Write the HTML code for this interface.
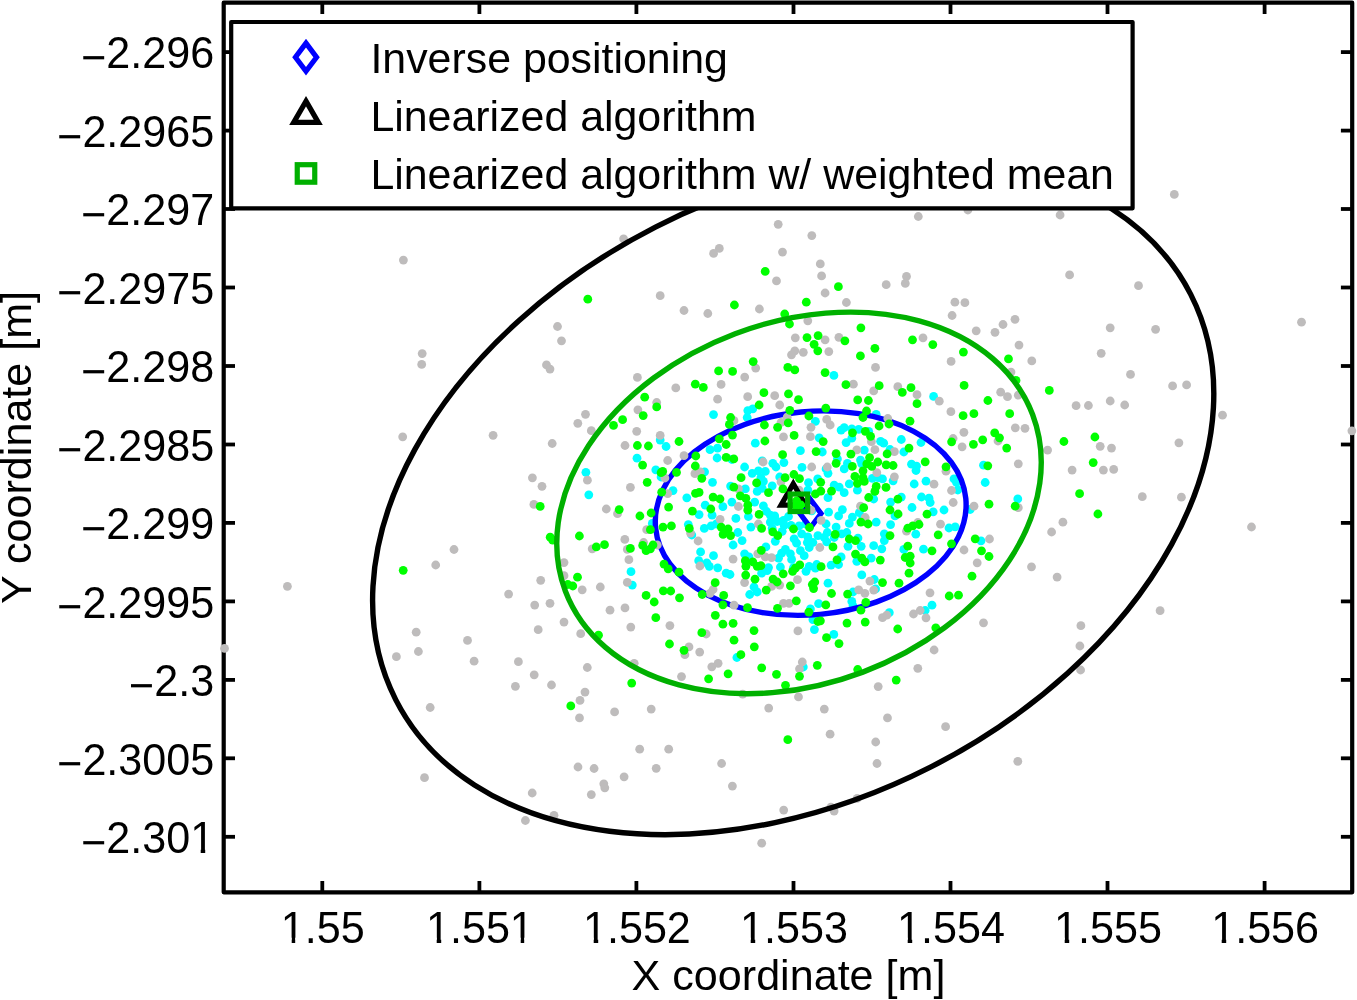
<!DOCTYPE html>
<html><head><meta charset="utf-8"><title>Positioning scatter</title>
<style>
html,body{margin:0;padding:0;background:#fff;}
body{width:1357px;height:1000px;overflow:hidden;}
svg{display:block;}
text{font-family:"Liberation Sans",sans-serif;font-size:43.1px;fill:#000;}
</style></head><body>
<svg width="1357" height="1000" viewBox="0 0 1357 1000">
<rect width="1357" height="1000" fill="#fff"/>

<g stroke="#000" stroke-width="4.2" fill="none" stroke-linejoin="round">
<rect x="223.7" y="2.7" width="1128.5" height="889.5999999999999"/>
</g><g stroke="#000" stroke-width="3.8">
<line x1="322.3" y1="892.3" x2="322.3" y2="881.0"/>
<line x1="322.3" y1="2.7" x2="322.3" y2="14.0"/>
<line x1="479.4" y1="892.3" x2="479.4" y2="881.0"/>
<line x1="479.4" y1="2.7" x2="479.4" y2="14.0"/>
<line x1="636.4" y1="892.3" x2="636.4" y2="881.0"/>
<line x1="636.4" y1="2.7" x2="636.4" y2="14.0"/>
<line x1="793.5" y1="892.3" x2="793.5" y2="881.0"/>
<line x1="793.5" y1="2.7" x2="793.5" y2="14.0"/>
<line x1="950.5" y1="892.3" x2="950.5" y2="881.0"/>
<line x1="950.5" y1="2.7" x2="950.5" y2="14.0"/>
<line x1="1107.5" y1="892.3" x2="1107.5" y2="881.0"/>
<line x1="1107.5" y1="2.7" x2="1107.5" y2="14.0"/>
<line x1="1264.6" y1="892.3" x2="1264.6" y2="881.0"/>
<line x1="1264.6" y1="2.7" x2="1264.6" y2="14.0"/>
<line x1="223.7" y1="52.1" x2="235.0" y2="52.1"/>
<line x1="1352.2" y1="52.1" x2="1340.9" y2="52.1"/>
<line x1="223.7" y1="130.6" x2="235.0" y2="130.6"/>
<line x1="1352.2" y1="130.6" x2="1340.9" y2="130.6"/>
<line x1="223.7" y1="209.0" x2="235.0" y2="209.0"/>
<line x1="1352.2" y1="209.0" x2="1340.9" y2="209.0"/>
<line x1="223.7" y1="287.5" x2="235.0" y2="287.5"/>
<line x1="1352.2" y1="287.5" x2="1340.9" y2="287.5"/>
<line x1="223.7" y1="366.0" x2="235.0" y2="366.0"/>
<line x1="1352.2" y1="366.0" x2="1340.9" y2="366.0"/>
<line x1="223.7" y1="444.5" x2="235.0" y2="444.5"/>
<line x1="1352.2" y1="444.5" x2="1340.9" y2="444.5"/>
<line x1="223.7" y1="522.9" x2="235.0" y2="522.9"/>
<line x1="1352.2" y1="522.9" x2="1340.9" y2="522.9"/>
<line x1="223.7" y1="601.4" x2="235.0" y2="601.4"/>
<line x1="1352.2" y1="601.4" x2="1340.9" y2="601.4"/>
<line x1="223.7" y1="679.9" x2="235.0" y2="679.9"/>
<line x1="1352.2" y1="679.9" x2="1340.9" y2="679.9"/>
<line x1="223.7" y1="758.3" x2="235.0" y2="758.3"/>
<line x1="1352.2" y1="758.3" x2="1340.9" y2="758.3"/>
<line x1="223.7" y1="836.8" x2="235.0" y2="836.8"/>
<line x1="1352.2" y1="836.8" x2="1340.9" y2="836.8"/>
</g>
<g fill="#00ffff">
<circle cx="713.5" cy="414.6" r="4.4"/>
<circle cx="660.2" cy="440.1" r="4.4"/>
<circle cx="666.1" cy="446.5" r="4.4"/>
<circle cx="637.0" cy="458.2" r="4.4"/>
<circle cx="655.8" cy="469.8" r="4.4"/>
<circle cx="661.1" cy="477.0" r="4.4"/>
<circle cx="585.9" cy="472.3" r="4.4"/>
<circle cx="588.8" cy="494.8" r="4.4"/>
<circle cx="710.0" cy="449.7" r="4.4"/>
<circle cx="717.5" cy="448.2" r="4.4"/>
<circle cx="717.1" cy="458.0" r="4.4"/>
<circle cx="731.9" cy="459.5" r="4.4"/>
<circle cx="704.6" cy="471.8" r="4.4"/>
<circle cx="712.5" cy="482.3" r="4.4"/>
<circle cx="730.6" cy="486.1" r="4.4"/>
<circle cx="673.0" cy="490.6" r="4.4"/>
<circle cx="686.8" cy="497.8" r="4.4"/>
<circle cx="705.2" cy="505.2" r="4.4"/>
<circle cx="722.9" cy="506.7" r="4.4"/>
<circle cx="731.9" cy="502.1" r="4.4"/>
<circle cx="699.1" cy="514.6" r="4.4"/>
<circle cx="712.1" cy="515.2" r="4.4"/>
<circle cx="688.3" cy="524.6" r="4.4"/>
<circle cx="652.3" cy="523.4" r="4.4"/>
<circle cx="704.3" cy="528.4" r="4.4"/>
<circle cx="711.2" cy="525.9" r="4.4"/>
<circle cx="716.2" cy="524.0" r="4.4"/>
<circle cx="747.8" cy="410.6" r="4.4"/>
<circle cx="752.8" cy="408.8" r="4.4"/>
<circle cx="747.2" cy="417.5" r="4.4"/>
<circle cx="815.4" cy="421.3" r="4.4"/>
<circle cx="841.1" cy="430.1" r="4.4"/>
<circle cx="844.2" cy="427.6" r="4.4"/>
<circle cx="851.8" cy="428.8" r="4.4"/>
<circle cx="858.7" cy="429.4" r="4.4"/>
<circle cx="868.7" cy="431.3" r="4.4"/>
<circle cx="819.2" cy="437.8" r="4.4"/>
<circle cx="755.3" cy="443.2" r="4.4"/>
<circle cx="846.1" cy="442.6" r="4.4"/>
<circle cx="851.8" cy="438.2" r="4.4"/>
<circle cx="880.6" cy="441.3" r="4.4"/>
<circle cx="883.7" cy="443.2" r="4.4"/>
<circle cx="901.3" cy="439.5" r="4.4"/>
<circle cx="800.4" cy="450.7" r="4.4"/>
<circle cx="822.3" cy="452.0" r="4.4"/>
<circle cx="864.3" cy="450.1" r="4.4"/>
<circle cx="890.0" cy="449.5" r="4.4"/>
<circle cx="903.8" cy="452.0" r="4.4"/>
<circle cx="762.2" cy="460.8" r="4.4"/>
<circle cx="772.8" cy="463.3" r="4.4"/>
<circle cx="776.0" cy="467.0" r="4.4"/>
<circle cx="783.9" cy="462.6" r="4.4"/>
<circle cx="744.6" cy="467.0" r="4.4"/>
<circle cx="802.0" cy="467.3" r="4.4"/>
<circle cx="837.4" cy="458.9" r="4.4"/>
<circle cx="847.4" cy="463.3" r="4.4"/>
<circle cx="861.8" cy="463.9" r="4.4"/>
<circle cx="826.1" cy="468.9" r="4.4"/>
<circle cx="828.0" cy="473.3" r="4.4"/>
<circle cx="752.2" cy="473.3" r="4.4"/>
<circle cx="758.4" cy="470.8" r="4.4"/>
<circle cx="765.3" cy="471.4" r="4.4"/>
<circle cx="760.9" cy="477.7" r="4.4"/>
<circle cx="763.4" cy="481.4" r="4.4"/>
<circle cx="779.7" cy="477.0" r="4.4"/>
<circle cx="817.7" cy="478.9" r="4.4"/>
<circle cx="808.5" cy="482.7" r="4.4"/>
<circle cx="849.3" cy="483.9" r="4.4"/>
<circle cx="857.4" cy="490.2" r="4.4"/>
<circle cx="872.4" cy="478.3" r="4.4"/>
<circle cx="878.1" cy="477.7" r="4.4"/>
<circle cx="882.5" cy="478.9" r="4.4"/>
<circle cx="893.1" cy="480.8" r="4.4"/>
<circle cx="772.2" cy="485.8" r="4.4"/>
<circle cx="745.3" cy="488.9" r="4.4"/>
<circle cx="757.2" cy="491.4" r="4.4"/>
<circle cx="762.2" cy="488.3" r="4.4"/>
<circle cx="807.9" cy="490.2" r="4.4"/>
<circle cx="834.2" cy="485.2" r="4.4"/>
<circle cx="839.2" cy="487.1" r="4.4"/>
<circle cx="844.2" cy="492.7" r="4.4"/>
<circle cx="828.0" cy="497.7" r="4.4"/>
<circle cx="873.7" cy="499.0" r="4.4"/>
<circle cx="890.6" cy="502.1" r="4.4"/>
<circle cx="901.3" cy="497.1" r="4.4"/>
<circle cx="754.7" cy="502.1" r="4.4"/>
<circle cx="763.4" cy="505.9" r="4.4"/>
<circle cx="766.6" cy="511.5" r="4.4"/>
<circle cx="748.4" cy="516.5" r="4.4"/>
<circle cx="770.3" cy="515.2" r="4.4"/>
<circle cx="774.7" cy="515.9" r="4.4"/>
<circle cx="777.2" cy="521.5" r="4.4"/>
<circle cx="783.5" cy="520.3" r="4.4"/>
<circle cx="770.3" cy="522.1" r="4.4"/>
<circle cx="788.5" cy="516.5" r="4.4"/>
<circle cx="784.1" cy="525.3" r="4.4"/>
<circle cx="791.0" cy="525.3" r="4.4"/>
<circle cx="799.1" cy="525.9" r="4.4"/>
<circle cx="805.4" cy="524.0" r="4.4"/>
<circle cx="826.1" cy="524.0" r="4.4"/>
<circle cx="828.6" cy="512.1" r="4.4"/>
<circle cx="838.6" cy="515.9" r="4.4"/>
<circle cx="842.4" cy="509.6" r="4.4"/>
<circle cx="852.4" cy="517.1" r="4.4"/>
<circle cx="849.3" cy="523.4" r="4.4"/>
<circle cx="859.3" cy="512.7" r="4.4"/>
<circle cx="876.2" cy="522.1" r="4.4"/>
<circle cx="895.0" cy="515.9" r="4.4"/>
<circle cx="735.9" cy="518.4" r="4.4"/>
<circle cx="750.9" cy="527.1" r="4.4"/>
<circle cx="772.2" cy="528.4" r="4.4"/>
<circle cx="863.0" cy="517.8" r="4.4"/>
<circle cx="836.1" cy="527.1" r="4.4"/>
<circle cx="890.6" cy="524.6" r="4.4"/>
<circle cx="876.2" cy="414.4" r="4.4"/>
<circle cx="844.2" cy="468.9" r="4.4"/>
<circle cx="860.5" cy="460.1" r="4.4"/>
<circle cx="811.7" cy="510.9" r="4.4"/>
<circle cx="631.0" cy="571.7" r="4.4"/>
<circle cx="632.3" cy="585.1" r="4.4"/>
<circle cx="700.6" cy="551.9" r="4.4"/>
<circle cx="713.5" cy="555.7" r="4.4"/>
<circle cx="698.7" cy="560.7" r="4.4"/>
<circle cx="706.8" cy="562.8" r="4.4"/>
<circle cx="709.3" cy="566.3" r="4.4"/>
<circle cx="717.7" cy="567.8" r="4.4"/>
<circle cx="726.2" cy="573.2" r="4.4"/>
<circle cx="730.0" cy="574.5" r="4.4"/>
<circle cx="691.8" cy="535.0" r="4.4"/>
<circle cx="733.1" cy="545.0" r="4.4"/>
<circle cx="737.8" cy="532.5" r="4.4"/>
<circle cx="742.1" cy="540.6" r="4.4"/>
<circle cx="782.2" cy="531.3" r="4.4"/>
<circle cx="775.3" cy="541.3" r="4.4"/>
<circle cx="765.9" cy="546.9" r="4.4"/>
<circle cx="744.6" cy="553.8" r="4.4"/>
<circle cx="749.0" cy="556.9" r="4.4"/>
<circle cx="794.1" cy="538.8" r="4.4"/>
<circle cx="796.6" cy="543.2" r="4.4"/>
<circle cx="801.7" cy="533.8" r="4.4"/>
<circle cx="807.9" cy="536.9" r="4.4"/>
<circle cx="807.3" cy="542.5" r="4.4"/>
<circle cx="812.9" cy="542.5" r="4.4"/>
<circle cx="809.2" cy="547.5" r="4.4"/>
<circle cx="817.9" cy="535.6" r="4.4"/>
<circle cx="824.2" cy="537.5" r="4.4"/>
<circle cx="826.7" cy="541.9" r="4.4"/>
<circle cx="827.3" cy="532.5" r="4.4"/>
<circle cx="834.2" cy="537.5" r="4.4"/>
<circle cx="841.7" cy="533.8" r="4.4"/>
<circle cx="846.8" cy="532.5" r="4.4"/>
<circle cx="858.0" cy="538.1" r="4.4"/>
<circle cx="848.0" cy="546.3" r="4.4"/>
<circle cx="861.2" cy="546.3" r="4.4"/>
<circle cx="873.7" cy="545.7" r="4.4"/>
<circle cx="881.8" cy="548.8" r="4.4"/>
<circle cx="884.3" cy="540.6" r="4.4"/>
<circle cx="884.3" cy="533.8" r="4.4"/>
<circle cx="903.8" cy="549.4" r="4.4"/>
<circle cx="785.4" cy="549.4" r="4.4"/>
<circle cx="781.6" cy="553.2" r="4.4"/>
<circle cx="778.5" cy="558.2" r="4.4"/>
<circle cx="790.4" cy="553.8" r="4.4"/>
<circle cx="791.6" cy="559.4" r="4.4"/>
<circle cx="800.4" cy="550.7" r="4.4"/>
<circle cx="804.2" cy="555.7" r="4.4"/>
<circle cx="841.1" cy="556.9" r="4.4"/>
<circle cx="831.1" cy="565.1" r="4.4"/>
<circle cx="838.6" cy="564.5" r="4.4"/>
<circle cx="856.8" cy="561.3" r="4.4"/>
<circle cx="871.2" cy="558.2" r="4.4"/>
<circle cx="768.5" cy="567.6" r="4.4"/>
<circle cx="761.6" cy="573.2" r="4.4"/>
<circle cx="767.2" cy="570.7" r="4.4"/>
<circle cx="780.4" cy="567.0" r="4.4"/>
<circle cx="793.5" cy="567.6" r="4.4"/>
<circle cx="809.2" cy="566.3" r="4.4"/>
<circle cx="806.0" cy="571.3" r="4.4"/>
<circle cx="815.4" cy="568.2" r="4.4"/>
<circle cx="816.7" cy="564.5" r="4.4"/>
<circle cx="861.8" cy="574.9" r="4.4"/>
<circle cx="874.3" cy="579.5" r="4.4"/>
<circle cx="828.0" cy="583.2" r="4.4"/>
<circle cx="754.0" cy="587.0" r="4.4"/>
<circle cx="749.7" cy="594.5" r="4.4"/>
<circle cx="757.2" cy="592.0" r="4.4"/>
<circle cx="853.0" cy="592.0" r="4.4"/>
<circle cx="875.6" cy="588.9" r="4.4"/>
<circle cx="851.8" cy="601.4" r="4.4"/>
<circle cx="853.0" cy="605.8" r="4.4"/>
<circle cx="818.6" cy="603.7" r="4.4"/>
<circle cx="810.4" cy="608.9" r="4.4"/>
<circle cx="812.9" cy="619.6" r="4.4"/>
<circle cx="814.4" cy="629.6" r="4.4"/>
<circle cx="833.8" cy="634.4" r="4.4"/>
<circle cx="889.3" cy="612.7" r="4.4"/>
<circle cx="911.5" cy="464.2" r="4.4"/>
<circle cx="916.5" cy="466.2" r="4.4"/>
<circle cx="916.0" cy="470.5" r="4.4"/>
<circle cx="983.5" cy="465.2" r="4.4"/>
<circle cx="985.2" cy="482.5" r="4.4"/>
<circle cx="926.0" cy="481.2" r="4.4"/>
<circle cx="914.2" cy="484.0" r="4.4"/>
<circle cx="954.0" cy="478.8" r="4.4"/>
<circle cx="956.5" cy="482.5" r="4.4"/>
<circle cx="957.8" cy="490.0" r="4.4"/>
<circle cx="921.5" cy="497.0" r="4.4"/>
<circle cx="929.0" cy="498.2" r="4.4"/>
<circle cx="930.2" cy="502.5" r="4.4"/>
<circle cx="912.0" cy="507.5" r="4.4"/>
<circle cx="933.2" cy="511.8" r="4.4"/>
<circle cx="944.0" cy="510.0" r="4.4"/>
<circle cx="970.2" cy="509.5" r="4.4"/>
<circle cx="949.0" cy="528.0" r="4.4"/>
<circle cx="955.2" cy="526.8" r="4.4"/>
<circle cx="915.8" cy="534.2" r="4.4"/>
<circle cx="981.0" cy="540.8" r="4.4"/>
<circle cx="923.5" cy="549.2" r="4.4"/>
<circle cx="932.0" cy="605.2" r="4.4"/>
<circle cx="925.2" cy="610.5" r="4.4"/>
<circle cx="833.9" cy="375.4" r="4.4"/>
<circle cx="933.6" cy="396.4" r="4.4"/>
<circle cx="921.0" cy="442.5" r="4.4"/>
<circle cx="736.9" cy="657.5" r="4.4"/>
<circle cx="803.3" cy="667.0" r="4.4"/>
<circle cx="1017.8" cy="498.9" r="4.4"/>
</g>
<ellipse cx="810.7" cy="513.15" rx="155.80" ry="101.65" transform="rotate(174.625 810.7 513.15)" fill="none" stroke="#0000ff" stroke-width="5.4"/>
<polygon points="810.5,499.45 821.05,513.5 810.5,527.55 799.95,513.5" fill="none" stroke="#0000ff" stroke-width="5.2" stroke-linejoin="miter" stroke-miterlimit="10"/>
<g fill="#bebcbc">
<circle cx="585.5" cy="414.3" r="4.4"/>
<circle cx="577.8" cy="423.3" r="4.4"/>
<circle cx="591.3" cy="430.7" r="4.4"/>
<circle cx="637.9" cy="409.8" r="4.4"/>
<circle cx="636.7" cy="431.3" r="4.4"/>
<circle cx="660.2" cy="435.4" r="4.4"/>
<circle cx="625.0" cy="445.5" r="4.4"/>
<circle cx="667.7" cy="460.5" r="4.4"/>
<circle cx="684.0" cy="455.7" r="4.4"/>
<circle cx="694.9" cy="473.7" r="4.4"/>
<circle cx="700.3" cy="472.0" r="4.4"/>
<circle cx="664.9" cy="478.0" r="4.4"/>
<circle cx="587.4" cy="480.2" r="4.4"/>
<circle cx="630.4" cy="487.3" r="4.4"/>
<circle cx="667.7" cy="493.7" r="4.4"/>
<circle cx="606.3" cy="509.0" r="4.4"/>
<circle cx="617.5" cy="513.7" r="4.4"/>
<circle cx="720.1" cy="519.3" r="4.4"/>
<circle cx="646.7" cy="529.7" r="4.4"/>
<circle cx="779.7" cy="405.0" r="4.4"/>
<circle cx="787.2" cy="417.2" r="4.4"/>
<circle cx="781.0" cy="422.5" r="4.4"/>
<circle cx="734.0" cy="420.7" r="4.4"/>
<circle cx="811.0" cy="427.3" r="4.4"/>
<circle cx="826.7" cy="419.4" r="4.4"/>
<circle cx="830.2" cy="425.0" r="4.4"/>
<circle cx="783.5" cy="436.9" r="4.4"/>
<circle cx="810.4" cy="436.7" r="4.4"/>
<circle cx="887.8" cy="418.5" r="4.4"/>
<circle cx="871.4" cy="441.7" r="4.4"/>
<circle cx="856.8" cy="449.9" r="4.4"/>
<circle cx="874.9" cy="449.7" r="4.4"/>
<circle cx="894.4" cy="451.7" r="4.4"/>
<circle cx="763.1" cy="462.0" r="4.4"/>
<circle cx="811.7" cy="467.0" r="4.4"/>
<circle cx="827.3" cy="467.0" r="4.4"/>
<circle cx="876.8" cy="472.7" r="4.4"/>
<circle cx="894.4" cy="476.8" r="4.4"/>
<circle cx="781.0" cy="482.0" r="4.4"/>
<circle cx="799.1" cy="490.2" r="4.4"/>
<circle cx="738.4" cy="506.5" r="4.4"/>
<circle cx="860.5" cy="506.2" r="4.4"/>
<circle cx="865.2" cy="517.5" r="4.4"/>
<circle cx="821.1" cy="520.3" r="4.4"/>
<circle cx="758.4" cy="524.0" r="4.4"/>
<circle cx="738.4" cy="488.9" r="4.4"/>
<circle cx="811.0" cy="510.2" r="4.4"/>
<circle cx="624.8" cy="539.4" r="4.4"/>
<circle cx="592.2" cy="548.8" r="4.4"/>
<circle cx="627.3" cy="549.4" r="4.4"/>
<circle cx="628.9" cy="559.7" r="4.4"/>
<circle cx="564.0" cy="562.6" r="4.4"/>
<circle cx="564.0" cy="575.7" r="4.4"/>
<circle cx="582.2" cy="589.8" r="4.4"/>
<circle cx="600.3" cy="587.0" r="4.4"/>
<circle cx="627.3" cy="582.4" r="4.4"/>
<circle cx="610.0" cy="610.2" r="4.4"/>
<circle cx="625.0" cy="607.9" r="4.4"/>
<circle cx="564.0" cy="622.1" r="4.4"/>
<circle cx="580.7" cy="633.7" r="4.4"/>
<circle cx="630.8" cy="627.1" r="4.4"/>
<circle cx="669.9" cy="625.6" r="4.4"/>
<circle cx="706.2" cy="634.0" r="4.4"/>
<circle cx="689.0" cy="646.9" r="4.4"/>
<circle cx="699.7" cy="652.1" r="4.4"/>
<circle cx="698.1" cy="541.0" r="4.4"/>
<circle cx="699.9" cy="566.0" r="4.4"/>
<circle cx="733.1" cy="559.1" r="4.4"/>
<circle cx="657.3" cy="545.0" r="4.4"/>
<circle cx="643.6" cy="542.5" r="4.4"/>
<circle cx="713.1" cy="589.5" r="4.4"/>
<circle cx="710.0" cy="593.3" r="4.4"/>
<circle cx="690.5" cy="533.1" r="4.4"/>
<circle cx="684.9" cy="654.7" r="4.4"/>
<circle cx="734.0" cy="605.2" r="4.4"/>
<circle cx="819.8" cy="547.5" r="4.4"/>
<circle cx="757.8" cy="553.8" r="4.4"/>
<circle cx="765.3" cy="556.9" r="4.4"/>
<circle cx="771.6" cy="557.6" r="4.4"/>
<circle cx="744.6" cy="582.6" r="4.4"/>
<circle cx="797.5" cy="579.7" r="4.4"/>
<circle cx="771.6" cy="586.4" r="4.4"/>
<circle cx="779.7" cy="585.1" r="4.4"/>
<circle cx="783.5" cy="603.3" r="4.4"/>
<circle cx="789.1" cy="603.3" r="4.4"/>
<circle cx="869.9" cy="581.1" r="4.4"/>
<circle cx="858.7" cy="589.9" r="4.4"/>
<circle cx="864.9" cy="593.3" r="4.4"/>
<circle cx="873.7" cy="590.1" r="4.4"/>
<circle cx="797.9" cy="630.9" r="4.4"/>
<circle cx="882.5" cy="617.7" r="4.4"/>
<circle cx="886.8" cy="615.2" r="4.4"/>
<circle cx="946.0" cy="471.2" r="4.4"/>
<circle cx="934.0" cy="484.2" r="4.4"/>
<circle cx="951.5" cy="490.5" r="4.4"/>
<circle cx="953.2" cy="502.5" r="4.4"/>
<circle cx="974.0" cy="506.2" r="4.4"/>
<circle cx="940.5" cy="524.2" r="4.4"/>
<circle cx="917.8" cy="522.5" r="4.4"/>
<circle cx="906.5" cy="531.2" r="4.4"/>
<circle cx="989.5" cy="539.0" r="4.4"/>
<circle cx="964.0" cy="550.0" r="4.4"/>
<circle cx="977.2" cy="562.8" r="4.4"/>
<circle cx="930.0" cy="592.8" r="4.4"/>
<circle cx="913.5" cy="614.0" r="4.4"/>
<circle cx="920.2" cy="610.5" r="4.4"/>
<circle cx="926.0" cy="617.8" r="4.4"/>
<circle cx="983.5" cy="622.8" r="4.4"/>
<circle cx="403.4" cy="260.1" r="4.4"/>
<circle cx="422.2" cy="353.6" r="4.4"/>
<circle cx="421.7" cy="364.4" r="4.4"/>
<circle cx="402.7" cy="436.8" r="4.4"/>
<circle cx="493.1" cy="435.3" r="4.4"/>
<circle cx="552.2" cy="443.5" r="4.4"/>
<circle cx="546.5" cy="364.9" r="4.4"/>
<circle cx="550.0" cy="369.1" r="4.4"/>
<circle cx="557.5" cy="326.5" r="4.4"/>
<circle cx="561.5" cy="340.8" r="4.4"/>
<circle cx="623.6" cy="238.8" r="4.4"/>
<circle cx="719.3" cy="248.4" r="4.4"/>
<circle cx="713.6" cy="253.4" r="4.4"/>
<circle cx="778.2" cy="224.3" r="4.4"/>
<circle cx="811.8" cy="235.6" r="4.4"/>
<circle cx="782.5" cy="252.1" r="4.4"/>
<circle cx="820.3" cy="263.9" r="4.4"/>
<circle cx="821.6" cy="275.9" r="4.4"/>
<circle cx="776.5" cy="280.9" r="4.4"/>
<circle cx="825.1" cy="293.0" r="4.4"/>
<circle cx="886.2" cy="284.7" r="4.4"/>
<circle cx="846.4" cy="302.5" r="4.4"/>
<circle cx="660.2" cy="295.7" r="4.4"/>
<circle cx="684.0" cy="310.5" r="4.4"/>
<circle cx="707.8" cy="313.5" r="4.4"/>
<circle cx="759.4" cy="309.0" r="4.4"/>
<circle cx="807.8" cy="320.8" r="4.4"/>
<circle cx="795.3" cy="337.8" r="4.4"/>
<circle cx="825.1" cy="339.8" r="4.4"/>
<circle cx="838.9" cy="337.3" r="4.4"/>
<circle cx="794.8" cy="350.8" r="4.4"/>
<circle cx="791.5" cy="354.8" r="4.4"/>
<circle cx="803.3" cy="352.3" r="4.4"/>
<circle cx="828.8" cy="351.6" r="4.4"/>
<circle cx="875.5" cy="367.4" r="4.4"/>
<circle cx="755.7" cy="368.1" r="4.4"/>
<circle cx="744.7" cy="377.1" r="4.4"/>
<circle cx="721.1" cy="384.4" r="4.4"/>
<circle cx="853.4" cy="384.2" r="4.4"/>
<circle cx="873.7" cy="390.9" r="4.4"/>
<circle cx="897.8" cy="386.7" r="4.4"/>
<circle cx="637.4" cy="377.4" r="4.4"/>
<circle cx="675.8" cy="387.9" r="4.4"/>
<circle cx="717.6" cy="399.2" r="4.4"/>
<circle cx="747.7" cy="396.7" r="4.4"/>
<circle cx="774.7" cy="395.7" r="4.4"/>
<circle cx="656.7" cy="402.5" r="4.4"/>
<circle cx="918.3" cy="216.5" r="4.4"/>
<circle cx="967.9" cy="210.0" r="4.4"/>
<circle cx="1060.1" cy="215.0" r="4.4"/>
<circle cx="906.5" cy="276.4" r="4.4"/>
<circle cx="905.3" cy="283.4" r="4.4"/>
<circle cx="1069.6" cy="274.9" r="4.4"/>
<circle cx="1138.5" cy="285.7" r="4.4"/>
<circle cx="954.9" cy="302.2" r="4.4"/>
<circle cx="964.9" cy="302.7" r="4.4"/>
<circle cx="952.1" cy="315.5" r="4.4"/>
<circle cx="1015.0" cy="319.3" r="4.4"/>
<circle cx="1003.0" cy="324.5" r="4.4"/>
<circle cx="995.0" cy="332.3" r="4.4"/>
<circle cx="976.2" cy="330.8" r="4.4"/>
<circle cx="1110.2" cy="327.8" r="4.4"/>
<circle cx="1155.6" cy="329.3" r="4.4"/>
<circle cx="923.0" cy="337.8" r="4.4"/>
<circle cx="1019.0" cy="345.1" r="4.4"/>
<circle cx="1101.2" cy="353.3" r="4.4"/>
<circle cx="1031.8" cy="360.9" r="4.4"/>
<circle cx="951.1" cy="361.4" r="4.4"/>
<circle cx="1011.0" cy="372.1" r="4.4"/>
<circle cx="1130.5" cy="374.4" r="4.4"/>
<circle cx="1172.6" cy="385.9" r="4.4"/>
<circle cx="1186.6" cy="384.9" r="4.4"/>
<circle cx="1000.7" cy="392.2" r="4.4"/>
<circle cx="1007.5" cy="396.7" r="4.4"/>
<circle cx="1018.3" cy="395.2" r="4.4"/>
<circle cx="917.0" cy="394.7" r="4.4"/>
<circle cx="939.3" cy="401.2" r="4.4"/>
<circle cx="1110.2" cy="401.0" r="4.4"/>
<circle cx="1124.7" cy="405.0" r="4.4"/>
<circle cx="1076.1" cy="405.7" r="4.4"/>
<circle cx="1088.4" cy="405.5" r="4.4"/>
<circle cx="950.9" cy="411.7" r="4.4"/>
<circle cx="1222.5" cy="415.2" r="4.4"/>
<circle cx="1015.3" cy="427.8" r="4.4"/>
<circle cx="1025.0" cy="428.3" r="4.4"/>
<circle cx="963.9" cy="432.3" r="4.4"/>
<circle cx="953.1" cy="438.5" r="4.4"/>
<circle cx="998.0" cy="441.0" r="4.4"/>
<circle cx="962.1" cy="446.8" r="4.4"/>
<circle cx="1178.9" cy="442.8" r="4.4"/>
<circle cx="1100.2" cy="446.3" r="4.4"/>
<circle cx="1111.5" cy="448.1" r="4.4"/>
<circle cx="1047.6" cy="450.1" r="4.4"/>
<circle cx="287.4" cy="586.3" r="4.4"/>
<circle cx="224.5" cy="648.4" r="4.4"/>
<circle cx="532.4" cy="477.8" r="4.4"/>
<circle cx="542.0" cy="486.3" r="4.4"/>
<circle cx="533.9" cy="504.4" r="4.4"/>
<circle cx="454.0" cy="549.5" r="4.4"/>
<circle cx="435.7" cy="565.0" r="4.4"/>
<circle cx="540.7" cy="580.3" r="4.4"/>
<circle cx="508.6" cy="594.1" r="4.4"/>
<circle cx="534.7" cy="605.1" r="4.4"/>
<circle cx="550.0" cy="603.3" r="4.4"/>
<circle cx="538.2" cy="629.7" r="4.4"/>
<circle cx="416.2" cy="632.2" r="4.4"/>
<circle cx="418.4" cy="651.5" r="4.4"/>
<circle cx="396.4" cy="656.7" r="4.4"/>
<circle cx="467.5" cy="640.4" r="4.4"/>
<circle cx="474.1" cy="661.2" r="4.4"/>
<circle cx="518.4" cy="661.7" r="4.4"/>
<circle cx="534.2" cy="674.8" r="4.4"/>
<circle cx="515.4" cy="686.3" r="4.4"/>
<circle cx="551.5" cy="685.0" r="4.4"/>
<circle cx="430.2" cy="707.5" r="4.4"/>
<circle cx="424.5" cy="777.7" r="4.4"/>
<circle cx="532.2" cy="793.0" r="4.4"/>
<circle cx="525.4" cy="820.5" r="4.4"/>
<circle cx="554.0" cy="815.3" r="4.4"/>
<circle cx="587.3" cy="667.5" r="4.4"/>
<circle cx="634.2" cy="663.3" r="4.4"/>
<circle cx="585.0" cy="692.1" r="4.4"/>
<circle cx="580.0" cy="700.4" r="4.4"/>
<circle cx="579.5" cy="717.9" r="4.4"/>
<circle cx="614.6" cy="711.9" r="4.4"/>
<circle cx="651.2" cy="709.1" r="4.4"/>
<circle cx="681.5" cy="676.6" r="4.4"/>
<circle cx="711.8" cy="666.8" r="4.4"/>
<circle cx="718.1" cy="663.3" r="4.4"/>
<circle cx="742.7" cy="694.1" r="4.4"/>
<circle cx="768.7" cy="708.1" r="4.4"/>
<circle cx="798.5" cy="696.9" r="4.4"/>
<circle cx="824.3" cy="709.1" r="4.4"/>
<circle cx="878.2" cy="686.6" r="4.4"/>
<circle cx="887.5" cy="717.9" r="4.4"/>
<circle cx="830.1" cy="734.2" r="4.4"/>
<circle cx="875.7" cy="742.0" r="4.4"/>
<circle cx="877.0" cy="763.5" r="4.4"/>
<circle cx="639.7" cy="749.2" r="4.4"/>
<circle cx="668.7" cy="749.2" r="4.4"/>
<circle cx="578.0" cy="767.0" r="4.4"/>
<circle cx="594.1" cy="768.5" r="4.4"/>
<circle cx="656.2" cy="768.3" r="4.4"/>
<circle cx="624.1" cy="776.8" r="4.4"/>
<circle cx="603.8" cy="783.8" r="4.4"/>
<circle cx="604.8" cy="787.8" r="4.4"/>
<circle cx="591.3" cy="794.6" r="4.4"/>
<circle cx="721.6" cy="763.5" r="4.4"/>
<circle cx="732.4" cy="786.1" r="4.4"/>
<circle cx="783.7" cy="810.1" r="4.4"/>
<circle cx="830.9" cy="807.1" r="4.4"/>
<circle cx="834.1" cy="811.1" r="4.4"/>
<circle cx="857.2" cy="798.3" r="4.4"/>
<circle cx="761.7" cy="843.2" r="4.4"/>
<circle cx="802.3" cy="662.0" r="4.4"/>
<circle cx="799.5" cy="668.8" r="4.4"/>
<circle cx="917.8" cy="668.3" r="4.4"/>
<circle cx="934.1" cy="650.0" r="4.4"/>
<circle cx="1080.6" cy="670.0" r="4.4"/>
<circle cx="945.6" cy="726.7" r="4.4"/>
<circle cx="1017.8" cy="761.3" r="4.4"/>
<circle cx="1018.3" cy="463.8" r="4.4"/>
<circle cx="1072.1" cy="470.1" r="4.4"/>
<circle cx="1103.4" cy="470.1" r="4.4"/>
<circle cx="1113.7" cy="469.4" r="4.4"/>
<circle cx="1142.3" cy="496.7" r="4.4"/>
<circle cx="1181.4" cy="497.2" r="4.4"/>
<circle cx="1062.9" cy="522.2" r="4.4"/>
<circle cx="1051.6" cy="532.0" r="4.4"/>
<circle cx="1251.5" cy="527.0" r="4.4"/>
<circle cx="1031.5" cy="566.8" r="4.4"/>
<circle cx="1057.1" cy="577.1" r="4.4"/>
<circle cx="1160.1" cy="610.7" r="4.4"/>
<circle cx="1080.9" cy="625.7" r="4.4"/>
<circle cx="1079.9" cy="646.0" r="4.4"/>
<circle cx="1018.3" cy="507.7" r="4.4"/>
<circle cx="1174.3" cy="194.4" r="4.4"/>
<circle cx="1301.5" cy="322.2" r="4.4"/>
<circle cx="1351.9" cy="430.8" r="4.4"/>
</g>
<ellipse cx="793.2" cy="497.0" rx="446.18" ry="303.04" transform="rotate(152.957 793.2 497.0)" fill="none" stroke="#000" stroke-width="5.4"/>
<polygon points="793.3,483.80 805.5999999999999,505.10 781.0,505.10" fill="none" stroke="#000" stroke-width="5.2" stroke-linejoin="miter" stroke-miterlimit="10"/>
<g fill="#00ff00">
<circle cx="656.7" cy="406.9" r="4.4"/>
<circle cx="643.2" cy="415.6" r="4.4"/>
<circle cx="622.6" cy="419.7" r="4.4"/>
<circle cx="613.5" cy="425.4" r="4.4"/>
<circle cx="679.0" cy="441.5" r="4.4"/>
<circle cx="637.4" cy="445.5" r="4.4"/>
<circle cx="648.4" cy="446.0" r="4.4"/>
<circle cx="642.6" cy="465.1" r="4.4"/>
<circle cx="662.7" cy="471.4" r="4.4"/>
<circle cx="661.1" cy="472.7" r="4.4"/>
<circle cx="676.5" cy="472.4" r="4.4"/>
<circle cx="695.8" cy="456.0" r="4.4"/>
<circle cx="695.3" cy="466.0" r="4.4"/>
<circle cx="701.8" cy="478.3" r="4.4"/>
<circle cx="647.2" cy="482.3" r="4.4"/>
<circle cx="661.7" cy="492.2" r="4.4"/>
<circle cx="695.5" cy="493.3" r="4.4"/>
<circle cx="699.1" cy="492.4" r="4.4"/>
<circle cx="713.1" cy="497.1" r="4.4"/>
<circle cx="720.0" cy="499.0" r="4.4"/>
<circle cx="668.6" cy="507.1" r="4.4"/>
<circle cx="692.4" cy="511.1" r="4.4"/>
<circle cx="710.8" cy="509.0" r="4.4"/>
<circle cx="619.2" cy="509.6" r="4.4"/>
<circle cx="651.1" cy="513.0" r="4.4"/>
<circle cx="639.9" cy="516.0" r="4.4"/>
<circle cx="719.3" cy="438.8" r="4.4"/>
<circle cx="726.2" cy="444.5" r="4.4"/>
<circle cx="726.2" cy="457.4" r="4.4"/>
<circle cx="730.6" cy="417.5" r="4.4"/>
<circle cx="729.4" cy="424.4" r="4.4"/>
<circle cx="732.5" cy="435.1" r="4.4"/>
<circle cx="733.8" cy="458.9" r="4.4"/>
<circle cx="733.8" cy="487.1" r="4.4"/>
<circle cx="663.0" cy="527.1" r="4.4"/>
<circle cx="671.4" cy="525.9" r="4.4"/>
<circle cx="689.3" cy="528.4" r="4.4"/>
<circle cx="721.2" cy="527.1" r="4.4"/>
<circle cx="650.4" cy="529.7" r="4.4"/>
<circle cx="728.1" cy="529.0" r="4.4"/>
<circle cx="759.1" cy="405.0" r="4.4"/>
<circle cx="789.8" cy="410.3" r="4.4"/>
<circle cx="825.8" cy="408.1" r="4.4"/>
<circle cx="808.9" cy="416.0" r="4.4"/>
<circle cx="866.5" cy="411.0" r="4.4"/>
<circle cx="863.0" cy="417.5" r="4.4"/>
<circle cx="764.4" cy="425.0" r="4.4"/>
<circle cx="777.6" cy="427.3" r="4.4"/>
<circle cx="788.2" cy="422.9" r="4.4"/>
<circle cx="879.1" cy="426.0" r="4.4"/>
<circle cx="889.0" cy="424.0" r="4.4"/>
<circle cx="794.1" cy="435.4" r="4.4"/>
<circle cx="764.9" cy="441.0" r="4.4"/>
<circle cx="852.5" cy="432.8" r="4.4"/>
<circle cx="865.3" cy="431.3" r="4.4"/>
<circle cx="870.6" cy="436.3" r="4.4"/>
<circle cx="823.2" cy="441.6" r="4.4"/>
<circle cx="816.1" cy="451.6" r="4.4"/>
<circle cx="782.6" cy="454.7" r="4.4"/>
<circle cx="836.1" cy="453.6" r="4.4"/>
<circle cx="850.9" cy="454.2" r="4.4"/>
<circle cx="887.1" cy="453.9" r="4.4"/>
<circle cx="869.6" cy="457.6" r="4.4"/>
<circle cx="836.1" cy="463.3" r="4.4"/>
<circle cx="852.3" cy="466.4" r="4.4"/>
<circle cx="866.8" cy="463.9" r="4.4"/>
<circle cx="877.8" cy="462.0" r="4.4"/>
<circle cx="886.2" cy="464.9" r="4.4"/>
<circle cx="893.1" cy="465.5" r="4.4"/>
<circle cx="863.0" cy="470.8" r="4.4"/>
<circle cx="871.8" cy="466.4" r="4.4"/>
<circle cx="854.9" cy="476.4" r="4.4"/>
<circle cx="863.0" cy="477.7" r="4.4"/>
<circle cx="857.4" cy="483.3" r="4.4"/>
<circle cx="864.3" cy="481.4" r="4.4"/>
<circle cx="785.1" cy="477.7" r="4.4"/>
<circle cx="793.9" cy="474.5" r="4.4"/>
<circle cx="799.5" cy="478.7" r="4.4"/>
<circle cx="741.1" cy="477.7" r="4.4"/>
<circle cx="756.6" cy="482.9" r="4.4"/>
<circle cx="820.7" cy="482.3" r="4.4"/>
<circle cx="782.9" cy="488.9" r="4.4"/>
<circle cx="768.5" cy="492.7" r="4.4"/>
<circle cx="820.8" cy="491.2" r="4.4"/>
<circle cx="815.4" cy="494.0" r="4.4"/>
<circle cx="831.5" cy="491.2" r="4.4"/>
<circle cx="740.3" cy="495.8" r="4.4"/>
<circle cx="745.9" cy="498.3" r="4.4"/>
<circle cx="747.8" cy="505.2" r="4.4"/>
<circle cx="747.8" cy="510.2" r="4.4"/>
<circle cx="759.1" cy="514.4" r="4.4"/>
<circle cx="876.2" cy="486.4" r="4.4"/>
<circle cx="874.9" cy="491.4" r="4.4"/>
<circle cx="886.0" cy="487.4" r="4.4"/>
<circle cx="868.7" cy="497.5" r="4.4"/>
<circle cx="897.9" cy="499.2" r="4.4"/>
<circle cx="863.7" cy="507.7" r="4.4"/>
<circle cx="890.0" cy="510.0" r="4.4"/>
<circle cx="898.1" cy="514.0" r="4.4"/>
<circle cx="860.9" cy="522.1" r="4.4"/>
<circle cx="868.1" cy="524.0" r="4.4"/>
<circle cx="809.5" cy="527.5" r="4.4"/>
<circle cx="793.5" cy="529.0" r="4.4"/>
<circle cx="761.6" cy="528.4" r="4.4"/>
<circle cx="796.6" cy="500.8" r="4.4"/>
<circle cx="800.8" cy="505.0" r="4.4"/>
<circle cx="795.9" cy="505.7" r="4.4"/>
<circle cx="579.4" cy="536.0" r="4.4"/>
<circle cx="596.3" cy="546.9" r="4.4"/>
<circle cx="604.5" cy="544.7" r="4.4"/>
<circle cx="630.4" cy="548.4" r="4.4"/>
<circle cx="642.7" cy="545.4" r="4.4"/>
<circle cx="646.1" cy="550.7" r="4.4"/>
<circle cx="653.0" cy="545.0" r="4.4"/>
<circle cx="650.4" cy="548.8" r="4.4"/>
<circle cx="723.1" cy="534.4" r="4.4"/>
<circle cx="730.6" cy="535.6" r="4.4"/>
<circle cx="664.0" cy="564.1" r="4.4"/>
<circle cx="668.2" cy="568.8" r="4.4"/>
<circle cx="679.0" cy="572.2" r="4.4"/>
<circle cx="577.5" cy="577.2" r="4.4"/>
<circle cx="567.8" cy="584.5" r="4.4"/>
<circle cx="572.8" cy="586.0" r="4.4"/>
<circle cx="646.1" cy="595.4" r="4.4"/>
<circle cx="654.2" cy="602.0" r="4.4"/>
<circle cx="663.3" cy="590.8" r="4.4"/>
<circle cx="670.7" cy="591.0" r="4.4"/>
<circle cx="679.5" cy="597.8" r="4.4"/>
<circle cx="715.2" cy="582.7" r="4.4"/>
<circle cx="702.2" cy="594.5" r="4.4"/>
<circle cx="723.7" cy="595.4" r="4.4"/>
<circle cx="722.9" cy="604.8" r="4.4"/>
<circle cx="715.3" cy="615.3" r="4.4"/>
<circle cx="722.9" cy="624.2" r="4.4"/>
<circle cx="733.1" cy="623.3" r="4.4"/>
<circle cx="655.8" cy="617.7" r="4.4"/>
<circle cx="701.8" cy="632.7" r="4.4"/>
<circle cx="669.5" cy="644.0" r="4.4"/>
<circle cx="684.0" cy="650.3" r="4.4"/>
<circle cx="598.5" cy="635.2" r="4.4"/>
<circle cx="734.0" cy="640.2" r="4.4"/>
<circle cx="772.8" cy="531.9" r="4.4"/>
<circle cx="777.8" cy="535.6" r="4.4"/>
<circle cx="835.2" cy="534.4" r="4.4"/>
<circle cx="849.3" cy="539.0" r="4.4"/>
<circle cx="855.5" cy="540.6" r="4.4"/>
<circle cx="890.0" cy="535.6" r="4.4"/>
<circle cx="833.0" cy="546.9" r="4.4"/>
<circle cx="761.3" cy="550.4" r="4.4"/>
<circle cx="855.5" cy="554.1" r="4.4"/>
<circle cx="861.8" cy="558.2" r="4.4"/>
<circle cx="864.9" cy="561.9" r="4.4"/>
<circle cx="880.3" cy="560.1" r="4.4"/>
<circle cx="837.0" cy="559.8" r="4.4"/>
<circle cx="745.3" cy="560.7" r="4.4"/>
<circle cx="752.8" cy="561.9" r="4.4"/>
<circle cx="745.9" cy="566.3" r="4.4"/>
<circle cx="760.9" cy="565.7" r="4.4"/>
<circle cx="757.2" cy="566.3" r="4.4"/>
<circle cx="799.8" cy="564.8" r="4.4"/>
<circle cx="795.4" cy="568.2" r="4.4"/>
<circle cx="792.6" cy="571.3" r="4.4"/>
<circle cx="821.1" cy="566.7" r="4.4"/>
<circle cx="783.2" cy="573.8" r="4.4"/>
<circle cx="745.7" cy="575.1" r="4.4"/>
<circle cx="755.0" cy="579.2" r="4.4"/>
<circle cx="773.1" cy="579.2" r="4.4"/>
<circle cx="777.2" cy="582.0" r="4.4"/>
<circle cx="790.4" cy="585.8" r="4.4"/>
<circle cx="766.2" cy="590.1" r="4.4"/>
<circle cx="814.8" cy="582.0" r="4.4"/>
<circle cx="812.3" cy="584.5" r="4.4"/>
<circle cx="813.6" cy="588.6" r="4.4"/>
<circle cx="831.5" cy="593.5" r="4.4"/>
<circle cx="847.6" cy="594.1" r="4.4"/>
<circle cx="882.5" cy="582.6" r="4.4"/>
<circle cx="899.0" cy="583.2" r="4.4"/>
<circle cx="796.3" cy="600.8" r="4.4"/>
<circle cx="825.8" cy="604.9" r="4.4"/>
<circle cx="865.8" cy="602.4" r="4.4"/>
<circle cx="747.5" cy="607.7" r="4.4"/>
<circle cx="777.5" cy="608.3" r="4.4"/>
<circle cx="808.8" cy="612.1" r="4.4"/>
<circle cx="860.9" cy="610.2" r="4.4"/>
<circle cx="820.4" cy="620.8" r="4.4"/>
<circle cx="817.9" cy="621.5" r="4.4"/>
<circle cx="847.0" cy="623.1" r="4.4"/>
<circle cx="865.2" cy="622.1" r="4.4"/>
<circle cx="754.0" cy="630.6" r="4.4"/>
<circle cx="897.7" cy="629.0" r="4.4"/>
<circle cx="754.3" cy="646.8" r="4.4"/>
<circle cx="826.5" cy="637.7" r="4.4"/>
<circle cx="839.0" cy="643.6" r="4.4"/>
<circle cx="740.9" cy="654.7" r="4.4"/>
<circle cx="925.2" cy="461.8" r="4.4"/>
<circle cx="946.0" cy="466.8" r="4.4"/>
<circle cx="987.8" cy="465.8" r="4.4"/>
<circle cx="989.0" cy="504.2" r="4.4"/>
<circle cx="1015.2" cy="506.2" r="4.4"/>
<circle cx="927.0" cy="514.2" r="4.4"/>
<circle cx="919.0" cy="524.5" r="4.4"/>
<circle cx="912.8" cy="525.8" r="4.4"/>
<circle cx="907.8" cy="528.2" r="4.4"/>
<circle cx="938.2" cy="534.8" r="4.4"/>
<circle cx="951.5" cy="543.8" r="4.4"/>
<circle cx="975.2" cy="538.8" r="4.4"/>
<circle cx="981.5" cy="550.8" r="4.4"/>
<circle cx="989.0" cy="556.5" r="4.4"/>
<circle cx="932.0" cy="550.8" r="4.4"/>
<circle cx="907.8" cy="546.2" r="4.4"/>
<circle cx="910.2" cy="556.2" r="4.4"/>
<circle cx="905.2" cy="557.5" r="4.4"/>
<circle cx="910.2" cy="563.0" r="4.4"/>
<circle cx="909.0" cy="573.2" r="4.4"/>
<circle cx="972.0" cy="576.2" r="4.4"/>
<circle cx="949.2" cy="596.0" r="4.4"/>
<circle cx="958.5" cy="595.2" r="4.4"/>
<circle cx="935.8" cy="627.8" r="4.4"/>
<circle cx="587.8" cy="299.2" r="4.4"/>
<circle cx="765.2" cy="271.4" r="4.4"/>
<circle cx="838.4" cy="286.7" r="4.4"/>
<circle cx="806.3" cy="302.2" r="4.4"/>
<circle cx="734.4" cy="305.0" r="4.4"/>
<circle cx="784.7" cy="314.0" r="4.4"/>
<circle cx="789.5" cy="324.0" r="4.4"/>
<circle cx="860.9" cy="327.8" r="4.4"/>
<circle cx="807.0" cy="337.6" r="4.4"/>
<circle cx="818.1" cy="335.6" r="4.4"/>
<circle cx="814.1" cy="344.3" r="4.4"/>
<circle cx="817.8" cy="350.8" r="4.4"/>
<circle cx="844.9" cy="340.8" r="4.4"/>
<circle cx="874.9" cy="348.3" r="4.4"/>
<circle cx="860.4" cy="355.9" r="4.4"/>
<circle cx="753.2" cy="361.6" r="4.4"/>
<circle cx="718.6" cy="370.9" r="4.4"/>
<circle cx="732.6" cy="371.4" r="4.4"/>
<circle cx="787.8" cy="367.4" r="4.4"/>
<circle cx="794.8" cy="369.9" r="4.4"/>
<circle cx="825.1" cy="372.6" r="4.4"/>
<circle cx="695.3" cy="384.2" r="4.4"/>
<circle cx="703.3" cy="387.4" r="4.4"/>
<circle cx="845.9" cy="384.7" r="4.4"/>
<circle cx="879.2" cy="385.7" r="4.4"/>
<circle cx="902.3" cy="392.4" r="4.4"/>
<circle cx="763.9" cy="392.7" r="4.4"/>
<circle cx="788.5" cy="393.9" r="4.4"/>
<circle cx="798.5" cy="399.7" r="4.4"/>
<circle cx="857.7" cy="399.9" r="4.4"/>
<circle cx="868.4" cy="400.5" r="4.4"/>
<circle cx="644.7" cy="397.2" r="4.4"/>
<circle cx="912.5" cy="339.8" r="4.4"/>
<circle cx="932.8" cy="344.6" r="4.4"/>
<circle cx="963.4" cy="352.1" r="4.4"/>
<circle cx="1008.5" cy="358.9" r="4.4"/>
<circle cx="1016.0" cy="380.4" r="4.4"/>
<circle cx="964.1" cy="385.4" r="4.4"/>
<circle cx="1049.3" cy="390.4" r="4.4"/>
<circle cx="911.0" cy="387.7" r="4.4"/>
<circle cx="917.0" cy="403.7" r="4.4"/>
<circle cx="987.9" cy="400.5" r="4.4"/>
<circle cx="963.1" cy="415.7" r="4.4"/>
<circle cx="973.9" cy="413.7" r="4.4"/>
<circle cx="1009.7" cy="413.7" r="4.4"/>
<circle cx="910.0" cy="421.2" r="4.4"/>
<circle cx="994.7" cy="432.8" r="4.4"/>
<circle cx="999.5" cy="437.8" r="4.4"/>
<circle cx="982.7" cy="439.8" r="4.4"/>
<circle cx="951.6" cy="441.8" r="4.4"/>
<circle cx="973.4" cy="444.3" r="4.4"/>
<circle cx="1006.7" cy="448.1" r="4.4"/>
<circle cx="1063.9" cy="441.5" r="4.4"/>
<circle cx="1094.9" cy="437.0" r="4.4"/>
<circle cx="909.0" cy="448.1" r="4.4"/>
<circle cx="540.2" cy="506.4" r="4.4"/>
<circle cx="550.2" cy="537.2" r="4.4"/>
<circle cx="552.7" cy="540.2" r="4.4"/>
<circle cx="403.2" cy="570.3" r="4.4"/>
<circle cx="570.8" cy="705.9" r="4.4"/>
<circle cx="631.7" cy="683.1" r="4.4"/>
<circle cx="708.6" cy="678.8" r="4.4"/>
<circle cx="728.1" cy="673.8" r="4.4"/>
<circle cx="761.7" cy="667.8" r="4.4"/>
<circle cx="776.5" cy="674.3" r="4.4"/>
<circle cx="785.5" cy="685.3" r="4.4"/>
<circle cx="799.5" cy="676.3" r="4.4"/>
<circle cx="817.3" cy="665.3" r="4.4"/>
<circle cx="857.7" cy="669.5" r="4.4"/>
<circle cx="896.2" cy="680.1" r="4.4"/>
<circle cx="787.8" cy="739.7" r="4.4"/>
<circle cx="1093.2" cy="462.6" r="4.4"/>
<circle cx="1079.6" cy="493.7" r="4.4"/>
<circle cx="1097.9" cy="514.0" r="4.4"/>
</g>
<ellipse cx="799.0" cy="502.9" rx="249.76" ry="180.85" transform="rotate(159.331 799.0 502.9)" fill="none" stroke="#00b000" stroke-width="5.4"/>
<rect x="790.15" y="494.05" width="17.5" height="17.5" fill="none" stroke="#00b000" stroke-width="5.2"/>
<text class="tk" transform="translate(322.8,942.9) scale(1,1.05)" text-anchor="middle">1.55</text>
<text class="tk" transform="translate(479.9,942.9) scale(1,1.05)" text-anchor="middle">1.551</text>
<text class="tk" transform="translate(636.9,942.9) scale(1,1.05)" text-anchor="middle">1.552</text>
<text class="tk" transform="translate(794.0,942.9) scale(1,1.05)" text-anchor="middle">1.553</text>
<text class="tk" transform="translate(951.0,942.9) scale(1,1.05)" text-anchor="middle">1.554</text>
<text class="tk" transform="translate(1108.0,942.9) scale(1,1.05)" text-anchor="middle">1.555</text>
<text class="tk" transform="translate(1265.1,942.9) scale(1,1.05)" text-anchor="middle">1.556</text>
<text class="tk" transform="translate(214.2,68.4) scale(1,1.05)" text-anchor="end"><tspan dy="4.4">−</tspan><tspan dy="-4.4">2.296</tspan></text>
<text class="tk" transform="translate(214.2,146.9) scale(1,1.05)" text-anchor="end"><tspan dy="4.4">−</tspan><tspan dy="-4.4">2.2965</tspan></text>
<text class="tk" transform="translate(214.2,225.3) scale(1,1.05)" text-anchor="end"><tspan dy="4.4">−</tspan><tspan dy="-4.4">2.297</tspan></text>
<text class="tk" transform="translate(214.2,303.8) scale(1,1.05)" text-anchor="end"><tspan dy="4.4">−</tspan><tspan dy="-4.4">2.2975</tspan></text>
<text class="tk" transform="translate(214.2,382.3) scale(1,1.05)" text-anchor="end"><tspan dy="4.4">−</tspan><tspan dy="-4.4">2.298</tspan></text>
<text class="tk" transform="translate(214.2,460.8) scale(1,1.05)" text-anchor="end"><tspan dy="4.4">−</tspan><tspan dy="-4.4">2.2985</tspan></text>
<text class="tk" transform="translate(214.2,539.2) scale(1,1.05)" text-anchor="end"><tspan dy="4.4">−</tspan><tspan dy="-4.4">2.299</tspan></text>
<text class="tk" transform="translate(214.2,617.7) scale(1,1.05)" text-anchor="end"><tspan dy="4.4">−</tspan><tspan dy="-4.4">2.2995</tspan></text>
<text class="tk" transform="translate(214.2,696.2) scale(1,1.05)" text-anchor="end"><tspan dy="4.4">−</tspan><tspan dy="-4.4">2.3</tspan></text>
<text class="tk" transform="translate(214.2,774.6) scale(1,1.05)" text-anchor="end"><tspan dy="4.4">−</tspan><tspan dy="-4.4">2.3005</tspan></text>
<text class="tk" transform="translate(214.2,853.1) scale(1,1.05)" text-anchor="end"><tspan dy="4.4">−</tspan><tspan dy="-4.4">2.301</tspan></text>
<rect x="282.5" y="937.7" width="9.2" height="6.7" fill="#fff"/>
<rect x="295.2" y="937.7" width="9.2" height="6.7" fill="#fff"/>
<rect x="427.5" y="937.7" width="9.2" height="6.7" fill="#fff"/>
<rect x="441.2" y="937.7" width="8.2" height="6.7" fill="#fff"/>
<rect x="511.5" y="937.7" width="9.2" height="6.7" fill="#fff"/>
<rect x="524.2" y="937.7" width="9.2" height="6.7" fill="#fff"/>
<rect x="584.5" y="937.7" width="9.2" height="6.7" fill="#fff"/>
<rect x="598.2" y="937.7" width="8.2" height="6.7" fill="#fff"/>
<rect x="741.5" y="937.7" width="9.2" height="6.7" fill="#fff"/>
<rect x="755.2" y="937.7" width="8.2" height="6.7" fill="#fff"/>
<rect x="898.5" y="937.7" width="9.2" height="6.7" fill="#fff"/>
<rect x="912.2" y="937.7" width="8.2" height="6.7" fill="#fff"/>
<rect x="1055.5" y="937.7" width="9.2" height="6.7" fill="#fff"/>
<rect x="1069.2" y="937.7" width="8.2" height="6.7" fill="#fff"/>
<rect x="1212.5" y="937.7" width="9.2" height="6.7" fill="#fff"/>
<rect x="1226.2" y="937.7" width="8.2" height="6.7" fill="#fff"/>
<rect x="191.5" y="847.7" width="9.2" height="6.9" fill="#fff"/>
<rect x="205.2" y="847.7" width="8.2" height="6.9" fill="#fff"/>
<text x="788.5" y="989.5" text-anchor="middle">X coordinate [m]</text>
<text transform="translate(31.3,447.4) rotate(-90)" text-anchor="middle">Y coordinate [m]</text>
<rect x="231.2" y="22.0" width="901.4" height="186.3" fill="#fff" stroke="#000" stroke-width="4.2" stroke-linejoin="round"/>
<polygon points="306.0,43.150000000000006 316.55,57.2 306.0,71.25 295.45,57.2" fill="none" stroke="#0000ff" stroke-width="5.2" stroke-linejoin="miter" stroke-miterlimit="10"/>
<polygon points="306.0,101.10 318.3,122.40 293.7,122.40" fill="none" stroke="#000" stroke-width="5.2" stroke-linejoin="miter" stroke-miterlimit="10"/>
<rect x="297.25" y="164.7" width="17.5" height="17.5" fill="none" stroke="#00b000" stroke-width="5.2"/>
<text x="370.4" y="72.8" style="font-size:42.88px">Inverse positioning</text>
<text x="370.4" y="130.6" style="font-size:42.88px">Linearized algorithm</text>
<text x="370.4" y="188.6" style="font-size:42.88px">Linearized algorithm w/ weighted mean</text>
</svg></body></html>
